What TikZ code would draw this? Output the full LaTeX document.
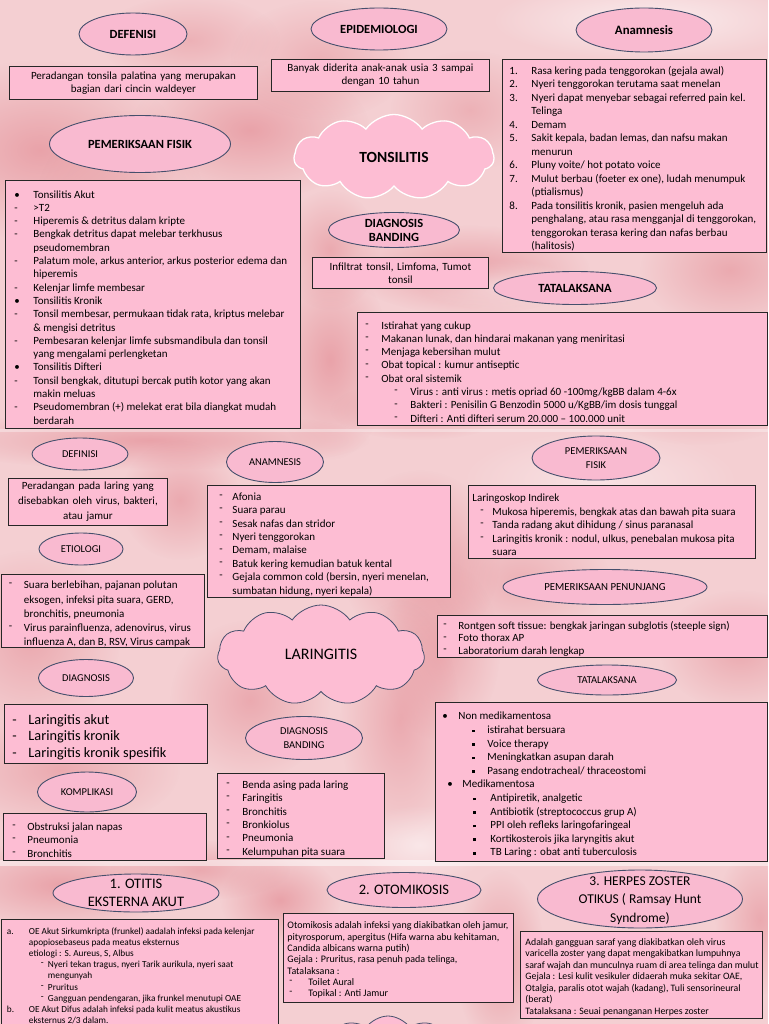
\documentclass[tikz,border=0pt]{standalone}
\usepackage{fontspec}
\setmainfont{Carlito}
\usetikzlibrary{shapes.geometric,shapes.symbols,fadings}

\definecolor{bgpink}{HTML}{F4CFD2}
\definecolor{bgred}{HTML}{E2858E}
\definecolor{boxpink}{HTML}{FDBDD3}
\definecolor{ovalpink}{HTML}{F9BAD0}
\definecolor{ovalline}{HTML}{454F6C}
\definecolor{boxline}{HTML}{262626}

\tikzfading[name=blotfade, inner color=transparent!0, outer color=transparent!100]

% list line: marker at #1, text (and hanging lines) at #2
\newcommand{\li}[3]{\par\rightskip=-16pt plus 1fil\noindent\hangindent=#2\hangafter=1\makebox[#2][l]{\hspace*{#1}#3}\ignorespaces}
\newcommand{\dsh}{\raisebox{1.8pt}{-}}
\newcommand{\sq}{\raisebox{1.2pt}{\rule{2.6pt}{2.6pt}}}
% label that does not size its shape
\newcommand{\lbl}[1]{\raisebox{-0.34em}[0pt][0pt]{\makebox[0pt]{\begin{tabular}{@{}c@{}}#1\end{tabular}}}}

\begin{document}
\begin{tikzpicture}[x=1pt, y=-1pt,
  infobox/.style={draw=boxline, line width=0.9pt, fill=boxpink, anchor=north west, inner sep=0pt, align=flush left},
  textbox/.style={infobox, align=center},
  topic/.style={ellipse, draw=ovalline, line width=0.9pt, fill=ovalpink, inner sep=0pt},
  puff/.style={cloud, cloud puffs=11, cloud puff arc=110, aspect=2.2, fill=boxpink, inner sep=0pt},
  blot/.style={path fading=blotfade}]
  \useasboundingbox (0,0) rectangle (768,1024);
  \clip (0,0) rectangle (768,1024);

  % Background
  \fill[bgpink] (0,0) rectangle (768,1024);
  \foreach \x/\y/\a/\b/\o in {40/150/140/90/0.6, 250/130/120/70/0.6, 190/40/90/45/0.4, 320/60/90/60/0.4,
      470/110/80/60/0.4, 330/360/60/100/0.6, 470/270/120/45/0.6, 730/270/90/60/0.5, 330/250/50/60/0.5,
      150/440/220/30/0.6, 180/500/60/60/0.5, 30/640/90/90/0.5, 420/560/80/90/0.6, 440/650/60/90/0.5,
      740/650/80/60/0.5, 60/770/120/60/0.5, 250/700/80/80/0.5, 400/720/60/120/0.5, 520/580/90/60/0.4,
      60/885/120/45/0.6, 280/900/60/45/0.6, 500/960/45/90/0.6, 200/870/90/30/0.5, 760/920/45/75/0.5,
      120/230/90/120/0.4, 420/410/90/30/0.5, 700/400/100/45/0.4, 640/800/90/60/0.3, 80/1000/100/40/0.4}
    \fill[bgred, opacity=\o, blot] (\x,\y) ellipse (\a pt and \b pt);
  \foreach \x/\y/\a/\b/\o in {650/20/160/40/0.6, 500/285/80/25/0.4, 600/480/140/50/0.4, 420/845/70/40/0.5}
    \fill[white, opacity=\o, blot] (\x,\y) ellipse (\a pt and \b pt);
  \fill[white, opacity=0.35] (0,429) rectangle (768,432);
  \fill[white, opacity=0.5] (0,860) rectangle (768,866);

  % Tonsilitis
  \node[puff, draw=white, line width=1.3pt, minimum width=200pt, minimum height=85pt,
        font=\bfseries\fontsize{15.5}{17}\selectfont] (t-main) at (394,157) {\lbl{TONSILITIS}};
  \node[topic, minimum width=108pt, minimum height=42pt, font=\bfseries\fontsize{12.5}{14}\selectfont] (t-def) at (133,34) {\lbl{DEFENISI}};
  \node[textbox, text width=248pt, minimum height=33pt, font=\fontsize{11}{13}\selectfont] (t-defbox) at (9,66)
    {Peradangan tonsila palatina yang merupakan\\bagian dari cincin waldeyer};
  \node[topic, minimum width=136pt, minimum height=42pt, font=\bfseries\fontsize{12.5}{14}\selectfont] (t-epi) at (379,29) {\lbl{EPIDEMIOLOGI}};
  \node[textbox, text width=218pt, minimum height=32pt, font=\fontsize{11}{13}\selectfont] (t-epibox) at (271,59)
    {Banyak diderita anak-anak usia 3 sampai\\dengan 10 tahun};
  \node[topic, minimum width=136pt, minimum height=44pt, font=\bfseries\fontsize{12.8}{14}\selectfont] (t-anam) at (644,30) {\lbl{Anamnesis}};
  \node[infobox, text width=264pt, minimum height=193pt, font=\fontsize{11}{13.5}\selectfont] (t-anambox) at (502,59) {%
    \li{7pt}{29pt}{1.}Rasa kering pada tenggorokan (gejala awal)
    \li{7pt}{29pt}{2.}Nyeri tenggorokan terutama saat menelan
    \li{7pt}{29pt}{3.}Nyeri dapat menyebar sebagai referred pain kel.\newline Telinga
    \li{7pt}{29pt}{4.}Demam
    \li{7pt}{29pt}{5.}Sakit kepala, badan lemas, dan nafsu makan\newline menurun
    \li{7pt}{29pt}{6.}Pluny voite/ hot potato voice
    \li{7pt}{29pt}{7.}Mulut berbau (foeter ex one), ludah menumpuk\newline (ptialismus)
    \li{7pt}{29pt}{8.}Pada tonsilitis kronik, pasien mengeluh ada\newline penghalang, atau rasa mengganjal di tenggorokan,\newline tenggorokan terasa kering dan nafas berbau\newline (halitosis)\par};
  \node[topic, minimum width=181pt, minimum height=57pt, font=\bfseries\fontsize{12.5}{14}\selectfont] (t-pf) at (140,144) {\lbl{PEMERIKSAAN FISIK}};
  \node[infobox, text width=295pt, minimum height=248pt, font=\fontsize{11}{13.3}\selectfont] (t-pfbox) at (5,180) {%
    \li{9pt}{28pt}{•}Tonsilitis Akut
    \li{9pt}{28pt}{-}>T2
    \li{9pt}{28pt}{-}Hiperemis \& detritus dalam kripte
    \li{9pt}{28pt}{-}Bengkak detritus dapat melebar terkhusus\newline pseudomembran
    \li{9pt}{28pt}{-}Palatum mole, arkus anterior, arkus posterior edema dan\newline hiperemis
    \li{9pt}{28pt}{-}Kelenjar limfe membesar
    \li{9pt}{28pt}{•}Tonsilitis Kronik
    \li{9pt}{28pt}{-}Tonsil membesar, permukaan tidak rata, kriptus melebar\newline \& mengisi detritus
    \li{9pt}{28pt}{-}Pembesaran kelenjar limfe subsmandibula dan tonsil\newline yang mengalami perlengketan
    \li{9pt}{28pt}{•}Tonsilitis Difteri
    \li{9pt}{28pt}{-}Tonsil bengkak, ditutupi bercak putih kotor yang akan\newline makin meluas
    \li{9pt}{28pt}{-}Pseudomembran (+) melekat erat bila diangkat mudah\newline berdarah\par};
  \node[topic, minimum width=131pt, minimum height=35pt, font=\bfseries\fontsize{12.5}{14}\selectfont] (t-db) at (394,230) {\lbl{DIAGNOSIS\\BANDING}};
  \node[textbox, text width=176pt, minimum height=31pt, font=\fontsize{11}{13}\selectfont] (t-dbbox) at (312,257)
    {Infiltrat tonsil, Limfoma, Tumot\\tonsil};
  \node[topic, minimum width=163pt, minimum height=33pt, font=\bfseries\fontsize{12.5}{14}\selectfont] (t-tata) at (575,288) {\lbl{TATALAKSANA}};
  \node[infobox, text width=410pt, minimum height=113pt, font=\fontsize{11}{13.3}\selectfont] (t-tatabox) at (357,312) {%
    \li{8pt}{24pt}{\dsh}Istirahat yang cukup
    \li{8pt}{24pt}{\dsh}Makanan lunak, dan hindarai makanan yang meniritasi
    \li{8pt}{24pt}{\dsh}Menjaga kebersihan mulut
    \li{8pt}{24pt}{\dsh}Obat topical : kumur antiseptic
    \li{8pt}{24pt}{\dsh}Obat oral sistemik
    \li{37pt}{53pt}{\dsh}Virus : anti virus : metis opriad 60 -100mg/kgBB dalam 4-6x
    \li{37pt}{53pt}{\dsh}Bakteri : Penisilin G Benzodin 5000 u/KgBB/im dosis tunggal
    \li{37pt}{53pt}{\dsh}Difteri : Anti difteri serum 20.000 – 100.000 unit\par};

  % Laringitis
  \node[puff, draw=ovalline, line width=0.8pt, minimum width=207pt, minimum height=100pt,
        font=\fontsize{16}{18}\selectfont] (l-main) at (321,655) {\lbl{LARINGITIS}};
  \node[topic, minimum width=96pt, minimum height=32pt, font=\fontsize{10.5}{12}\selectfont] (l-def) at (80,454) {\lbl{DEFINISI}};
  \node[textbox, text width=159pt, minimum height=47pt, font=\fontsize{11}{15}\selectfont] (l-defbox) at (8,478)
    {Peradangan pada laring yang\\disebabkan oleh virus, bakteri,\\atau jamur};
  \node[topic, minimum width=84pt, minimum height=32pt, font=\fontsize{10.5}{12}\selectfont] (l-etio) at (81,549) {\lbl{ETIOLOGI}};
  \node[infobox, text width=203pt, minimum height=73pt, font=\fontsize{11}{14.3}\selectfont] (l-etiobox) at (0.5,574) {%
    \li{8pt}{23pt}{\dsh}Suara berlebihan, pajanan polutan\newline eksogen, infeksi pita suara, GERD,\newline bronchitis, pneumonia
    \li{8pt}{23pt}{\dsh}Virus parainfluenza, adenovirus, virus\newline influenza A, dan B, RSV, Virus campak\par};
  \node[topic, minimum width=97pt, minimum height=41pt, font=\fontsize{10.5}{12}\selectfont] (l-anam) at (275,462) {\lbl{ANAMNESIS}};
  \node[infobox, text width=243pt, minimum height=112pt, font=\fontsize{11}{13.4}\selectfont] (l-anambox) at (207,485) {%
    \li{12pt}{25pt}{\dsh}Afonia
    \li{12pt}{25pt}{\dsh}Suara parau
    \li{12pt}{25pt}{\dsh}Sesak nafas dan stridor
    \li{12pt}{25pt}{\dsh}Nyeri tenggorokan
    \li{12pt}{25pt}{\dsh}Demam, malaise
    \li{12pt}{25pt}{\dsh}Batuk kering kemudian batuk kental
    \li{12pt}{25pt}{\dsh}Gejala common cold (bersin, nyeri menelan,\newline sumbatan hidung, nyeri kepala)\par};
  \node[topic, minimum width=128pt, minimum height=44pt, font=\fontsize{10.5}{14}\selectfont] (l-pf) at (596,458) {\lbl{PEMERIKSAAN\\FISIK}};
  \node[infobox, text width=287pt, minimum height=73pt, font=\fontsize{11}{13.4}\selectfont] (l-pfbox) at (468,485) {%
    \li{4pt}{4pt}{}Laringoskop Indirek
    \li{12pt}{24pt}{\dsh}Mukosa hiperemis, bengkak atas dan bawah pita suara
    \li{12pt}{24pt}{\dsh}Tanda radang akut dihidung / sinus paranasal
    \li{12pt}{24pt}{\dsh}Laringitis kronik : nodul, ulkus, penebalan mukosa pita\newline suara\par};
  \node[topic, minimum width=204pt, minimum height=35pt, font=\fontsize{10.8}{12}\selectfont] (l-pp) at (605,587) {\lbl{PEMERIKSAAN PENUNJANG}};
  \node[infobox, text width=330pt, minimum height=42pt, font=\fontsize{11}{12.8}\selectfont] (l-ppbox) at (437,615) {%
    \li{6pt}{21pt}{\dsh}Rontgen soft tissue: bengkak jaringan subglotis (steeple sign)
    \li{6pt}{21pt}{\dsh}Foto thorax AP
    \li{6pt}{21pt}{\dsh}Laboratorium darah lengkap\par};
  \node[topic, minimum width=95pt, minimum height=37pt, font=\fontsize{10.5}{12}\selectfont] (l-diag) at (86,678) {\lbl{DIAGNOSIS}};
  \node[infobox, text width=203pt, minimum height=59pt, font=\fontsize{14.3}{16.5}\selectfont] (l-diagbox) at (4,704) {%
    \li{8pt}{24pt}{-}Laringitis akut
    \li{8pt}{24pt}{-}Laringitis kronik
    \li{8pt}{24pt}{-}Laringitis kronik spesifik\par};
  \node[topic, minimum width=99pt, minimum height=40pt, font=\fontsize{10.5}{12}\selectfont] (l-komp) at (87,792) {\lbl{KOMPLIKASI}};
  \node[infobox, text width=203pt, minimum height=47pt, font=\fontsize{11}{13.5}\selectfont] (l-kompbox) at (3,813) {%
    \li{9pt}{24pt}{\dsh}Obstruksi jalan napas
    \li{9pt}{24pt}{\dsh}Pneumonia
    \li{9pt}{24pt}{\dsh}Bronchitis\par};
  \node[topic, minimum width=117pt, minimum height=43pt, font=\fontsize{10.5}{14}\selectfont] (l-db) at (304,738) {\lbl{DIAGNOSIS\\BANDING}};
  \node[infobox, text width=167pt, minimum height=85pt, font=\fontsize{11}{13.4}\selectfont] (l-dbbox) at (217,773) {%
    \li{9pt}{25pt}{\dsh}Benda asing pada laring
    \li{9pt}{25pt}{\dsh}Faringitis
    \li{9pt}{25pt}{\dsh}Bronchitis
    \li{9pt}{25pt}{\dsh}Bronkiolus
    \li{9pt}{25pt}{\dsh}Pneumonia
    \li{9pt}{25pt}{\dsh}Kelumpuhan pita suara\par};
  \node[topic, minimum width=139pt, minimum height=30pt, font=\fontsize{10.5}{12}\selectfont] (l-tata) at (607,680) {\lbl{TATALAKSANA}};
  \node[infobox, text width=332pt, minimum height=159pt, font=\fontsize{11}{13.6}\selectfont] (l-tatabox) at (435,702) {%
    \li{7pt}{23pt}{•}Non medikamentosa
    \li{37pt}{52pt}{\sq}istirahat bersuara
    \li{37pt}{52pt}{\sq}Voice therapy
    \li{37pt}{52pt}{\sq}Meningkatkan asupan darah
    \li{37pt}{52pt}{\sq}Pasang endotracheal/ thraceostomi
    \li{12pt}{27pt}{•}Medikamentosa
    \li{38pt}{55pt}{\sq}Antipiretik, analgetic
    \li{38pt}{55pt}{\sq}Antibiotik (streptococcus grup A)
    \li{38pt}{55pt}{\sq}PPI oleh refleks laringofaringeal
    \li{38pt}{55pt}{\sq}Kortikosterois jika laryngitis akut
    \li{38pt}{55pt}{\sq}TB Laring : obat anti tuberculosis\par};

  % Telinga
  \node[topic, minimum width=166pt, minimum height=38pt, font=\fontsize{14.5}{18}\selectfont] (o-oe) at (136,893) {\lbl{1. OTITIS\\EKSTERNA AKUT}};
  \node[infobox, text width=277pt, minimum height=108pt, font=\fontsize{9.3}{11.2}\selectfont] (o-oebox) at (0.5,919) {%
    \li{6pt}{28pt}{a.}OE Akut Sirkumkripta (frunkel) aadalah infeksi pada kelenjar\newline apopiosebaseus pada meatus eksternus\newline etiologi : S. Aureus, S, Albus
    \li{40pt}{47pt}{\dsh}Nyeri tekan tragus, nyeri Tarik aurikula, nyeri saat\newline mengunyah
    \li{40pt}{47pt}{\dsh}Pruritus
    \li{40pt}{47pt}{\dsh}Gangguan pendengaran, jika frunkel menutupi OAE
    \li{6pt}{28pt}{b.}OE Akut Difus adalah infeksi pada kulit meatus akustikus\newline eksternus 2/3 dalam.\par};
  \node[topic, minimum width=154pt, minimum height=35pt, font=\fontsize{14.5}{16}\selectfont] (o-om) at (404,890) {\lbl{2. OTOMIKOSIS}};
  \node[infobox, text width=230pt, minimum height=89pt, font=\fontsize{10}{11.3}\selectfont] (o-ombox) at (283,913) {%
    \li{4pt}{4pt}{}Otomikosis adalah infeksi yang diakibatkan oleh jamur,
    \li{4pt}{4pt}{}pityrosporum, apergitus (Hifa warna abu kehitaman,
    \li{4pt}{4pt}{}Candida albicans warna putih)
    \li{4pt}{4pt}{}Gejala : Pruritus, rasa penuh pada telinga,
    \li{4pt}{4pt}{}Tatalaksana :
    \li{6pt}{25pt}{\dsh}Toilet Aural
    \li{6pt}{25pt}{\dsh}Topikal : Anti Jamur\par};
  \node[topic, minimum width=205pt, minimum height=58pt, font=\fontsize{13.5}{18.5}\selectfont] (o-hz) at (640,899) {\lbl{3. HERPES ZOSTER\\OTIKUS ( Ramsay Hunt\\Syndrome)}};
  \node[infobox, text width=242pt, minimum height=87pt, font=\fontsize{9.8}{11.5}\selectfont] (o-hzbox) at (520,931) {%
    \li{5pt}{5pt}{}Adalah gangguan saraf yang diakibatkan oleh virus
    \li{5pt}{5pt}{}varicella zoster yang dapat mengakibatkan lumpuhnya
    \li{5pt}{5pt}{}saraf wajah dan munculnya ruam di area telinga dan mulut
    \li{5pt}{5pt}{}Gejala : Lesi kulit vesikuler didaerah muka sekitar OAE,
    \li{5pt}{5pt}{}Otalgia, paralis otot wajah (kadang), Tuli sensorineural
    \li{5pt}{5pt}{}(berat)
    \li{5pt}{5pt}{}Tatalaksana : Seuai penanganan Herpes zoster\par};
  \node[puff, draw=ovalline, line width=0.8pt, minimum width=160pt, minimum height=100pt] (o-cloud) at (388,1066) {};
\end{tikzpicture}
\end{document}
